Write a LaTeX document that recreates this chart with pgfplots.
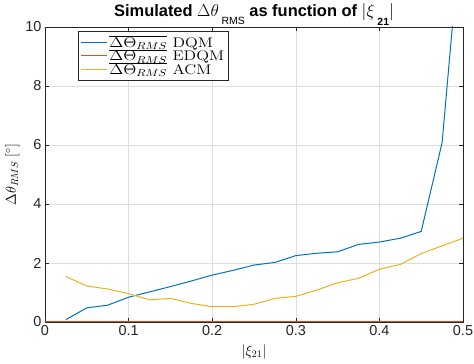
\documentclass[border=0pt]{standalone}
\usepackage{graphicx}
\usepackage{pgfplots}
\pgfplotsset{compat=1.18}
\usepackage{fontspec}
\newfontfamily\helv{Liberation Sans}
\definecolor{mblue}{rgb}{0,0.447,0.741}
\definecolor{mred}{rgb}{0.85,0.325,0.098}
\definecolor{myel}{rgb}{0.929,0.694,0.125}
\definecolor{axgray}{rgb}{0.15,0.15,0.15}
\definecolor{grd}{rgb}{0.87,0.87,0.87}
\newcommand{\legtxt}[1]{\scalebox{1.2}[1]{#1}}
\begin{document}
\begin{tikzpicture}
\begin{axis}[
  scale only axis,
  width=418bp, height=295bp,
  xmin=0, xmax=0.5, ymin=0, ymax=10,
  xtick={0,0.1,0.2,0.3,0.4,0.5},
  ytick={0,2,4,6,8,10},
  xticklabels={0,0.1,0.2,0.3,0.4,0.5},
  yticklabels={0,2,4,6,8,10},
  tick align=inside,
  major tick length=4bp,
  axis line style={axgray, line width=0.6pt},
  tick style={axgray, line width=0.6pt},
  grid=major,
  major grid style={grd, line width=0.5pt},
  ticklabel style={font=\helv\fontsize{14.5}{14.5}\selectfont, text=axgray},
  /pgf/number format/assume math mode=true,
  xlabel={$|\xi_{21}|$},
  ylabel={$\Delta\theta_{RMS}\;[^\circ]$},
  label style={font=\fontsize{14}{14}\selectfont},
  xlabel style={at={(rel axis cs:0.5,0)}, anchor=north, yshift=-19bp},
  ylabel style={at={(rel axis cs:0,0.5)}, anchor=south, yshift=22bp},
  every axis title shift=0pt,
  title={\helv\bfseries Simulated $\Delta\theta$\,\raisebox{-8bp}{\fontsize{10.5}{10.5}\selectfont\mdseries RMS} as function of $|\xi$\,\raisebox{-9bp}{\fontsize{10.5}{10.5}\selectfont 21}$|$},
  title style={font=\fontsize{16.5}{16.5}\selectfont, at={(rel axis cs:0.5,1)}, anchor=base, yshift=10.5bp},
  legend style={at={(rel axis cs:0.079,0.986)}, anchor=north west, draw=axgray, line width=0.6pt, fill=white,
    font=\fontsize{14}{14}\selectfont, row sep=-3.5pt, inner sep=2pt},
  legend cell align=left,
  legend image post style={line width=1pt},
  legend image code/.code={\draw[#1] (0cm,0cm) -- (26bp,0cm);},
  clip=true,
]
\addplot[mblue, line width=1pt] coordinates {
(0.025,0.08) (0.05,0.48) (0.075,0.57) (0.1,0.84) (0.125,1.02) (0.15,1.20)
(0.175,1.39) (0.2,1.59) (0.225,1.75) (0.25,1.93) (0.275,2.02) (0.3,2.25)
(0.325,2.33) (0.35,2.38) (0.375,2.63) (0.4,2.71) (0.425,2.84) (0.45,3.07)
(0.475,6.08) (0.5,14.1)};
\addlegendentry{\legtxt{$\overline{\Delta\Theta_{RMS}}$ DQM}}
\addplot[mred, line width=1.1pt] coordinates {
(0,0) (0.025,0) (0.05,0) (0.075,0) (0.1,0) (0.125,0) (0.15,0) (0.175,0) (0.2,0)
(0.225,0) (0.25,0) (0.275,0) (0.3,0) (0.325,0) (0.35,0) (0.375,0) (0.4,0)
(0.425,0) (0.45,0) (0.475,0) (0.5,0)};
\addlegendentry{\legtxt{$\overline{\Delta\Theta_{RMS}}$ EDQM}}
\addplot[myel, line width=1pt] coordinates {
(0.025,1.54) (0.05,1.22) (0.075,1.12) (0.1,0.96) (0.125,0.75) (0.15,0.80)
(0.175,0.63) (0.2,0.52) (0.225,0.52) (0.25,0.60) (0.275,0.80) (0.3,0.87)
(0.325,1.08) (0.35,1.33) (0.375,1.48) (0.4,1.79) (0.425,1.95) (0.45,2.32)
(0.475,2.58) (0.5,2.84)};
\addlegendentry{\legtxt{$\overline{\Delta\Theta_{RMS}}$ ACM}}
\end{axis}
\pgfresetboundingbox
\path ([xshift=-45bp,yshift=-42bp]current axis.south west) rectangle ([xshift=11bp,yshift=27bp]current axis.north east);
\end{tikzpicture}
\end{document}
